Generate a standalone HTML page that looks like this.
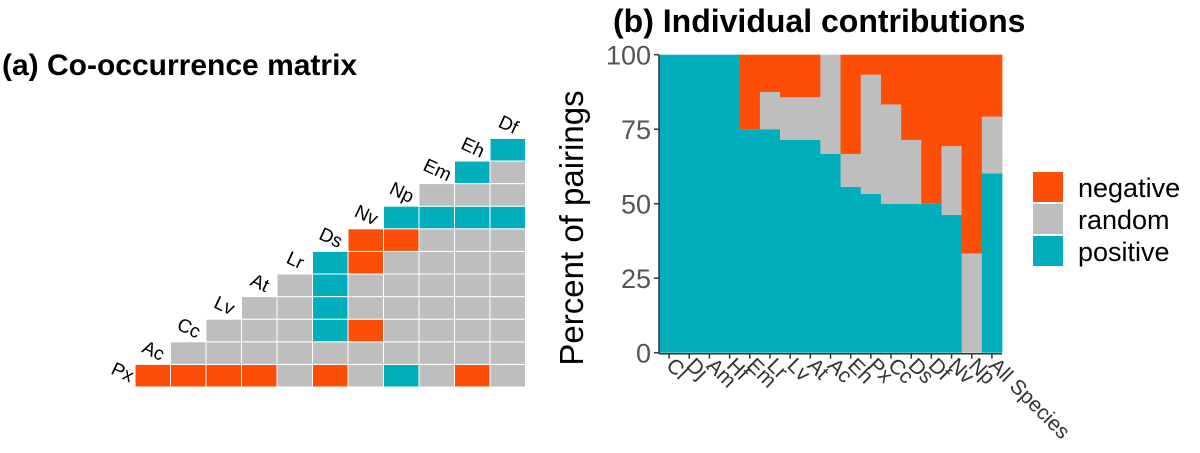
<!DOCTYPE html>
<html><head><meta charset="utf-8"><style>
html,body{margin:0;padding:0;background:#fff;width:1200px;height:453px;overflow:hidden}
svg text{font-family:"Liberation Sans",Arial,sans-serif}
</style></head><body>
<svg id="fig" width="1200" height="453" viewBox="0 0 1200 453" xmlns="http://www.w3.org/2000/svg">
<text x="2" y="75" font-size="30" font-weight="bold" fill="#000">(a) Co-occurrence matrix</text>
<text x="613" y="32" font-size="32" font-weight="bold" fill="#000">(b) Individual contributions</text>
<g id="matrix"></g>
<g id="bars"></g>
<text transform="translate(583,228) rotate(-90)" text-anchor="middle" font-size="33" fill="#000">Percent of pairings</text>
<g>
<rect x="1033" y="172" width="30" height="30" fill="#FC4E07"/>
<rect x="1033" y="204" width="30" height="30" fill="#BEBEBE"/>
<rect x="1033" y="236" width="30" height="30" fill="#00AFBB"/>
<text x="1078" y="197" font-size="27" fill="#000">negative</text>
<text x="1078" y="229" font-size="27" fill="#000">random</text>
<text x="1078" y="261" font-size="27" fill="#000">positive</text>
</g>
</svg>
<script>
const NS="http://www.w3.org/2000/svg";
const COL={N:"#FC4E07",R:"#BEBEBE",P:"#00AFBB"};
// matrix data
const matrixSpecies=["Px","Ac","Cc","Lv","At","Lr","Ds","Nv","Np","Em","Eh","Df"];
const matrixRows=[
 "NNNNRNRPRNR",
 "RRRRRRRRRR",
 "RRRPNRRRR",
 "RRPRRRRR",
 "RPRRRRR",
 "PNRRRR",
 "NNRRR",
 "PPPP",
 "RRR",
 "PR",
 "P"];
// bar data
const categories=["Cl","Dj","Am","Hf","Em","Lr","Lv","At","Ac","Eh","Px","Cc","Ds","Df","Nv","Np","All Species"];
const positive=[100,100,100,100,75,75,71.4,71.4,66.7,55.6,53.3,50,50,50,46.2,0,60.2];
const random=[0,0,0,0,0,12.5,14.3,14.3,33.3,11.1,40,33.3,21.4,0,23.1,33.3,19];
const negative=[0,0,0,0,25,12.5,14.3,14.3,0,33.3,6.7,16.7,28.6,50,30.7,66.7,20.8];
const yTicks=[0,25,50,75,100];

function mk(tag,attrs,parent){const e=document.createElementNS(NS,tag);for(const k in attrs)e.setAttribute(k,attrs[k]);parent.appendChild(e);return e;}

const mg=document.getElementById("matrix");
const mx0=135,cw=35.5,my0=387,ch=22.6;
matrixRows.forEach((row,i)=>{
  for(let k=0;k<row.length;k++){
    const j=i+k;
    const r=mk("rect",{x:mx0+j*cw,y:my0-(i+1)*ch,width:cw,height:ch,fill:COL[row[k]],stroke:"#fff","stroke-width":1},mg);
    
    
  }
});
matrixSpecies.forEach((s,i)=>{
  let x,y;
  if(i===0){x=mx0-5;y=my0-ch/2+7;}
  else{x=mx0+(i-1)*cw+cw/2-2;y=my0-i*ch-8;}
  const t=mk("text",{x:x,y:y,"font-size":19,fill:"#000","text-anchor":i===0?"end":"middle",transform:"rotate(25 "+x+" "+y+")"},mg);
  t.textContent=s;
  
  
});

const bg=document.getElementById("bars");
const px0=659,px1=1002,py0=352.7,py1=54.7;
const bw=(px1-px0)/categories.length;
const xs=i=>px0+i*bw;
const ys=v=>py0-(v/100)*(py0-py1);
categories.forEach((c,i)=>{
  const x=xs(i);
  const segs=[["positive",positive[i],COL.P],["random",random[i],COL.R],["negative",negative[i],COL.N]];
  let acc=0;
  segs.forEach(([nm,v,col])=>{
    if(v<=0)return;
    const r=mk("rect",{x:x,y:ys(acc+v),width:bw+0.4,height:ys(acc)-ys(acc+v),fill:col},bg);
    
    
    acc+=v;
  });
  const tx=x+bw/2;
  mk("line",{x1:tx,x2:tx,y1:py0+1,y2:py0+6,stroke:"#333","stroke-width":1.5},bg);
  const t=mk("text",{x:tx-4,y:py0+14,"font-size":21,fill:"#333",transform:"rotate(45 "+(tx-4)+" "+(py0+14)+")"},bg);
  t.textContent=c;
  
  
});
mk("line",{x1:px0,x2:px1,y1:py0+1,y2:py0+1,stroke:"#333","stroke-width":1.5},bg);
mk("line",{x1:px0,x2:px0,y1:py1,y2:py0+1,stroke:"#333","stroke-width":1.5},bg);
yTicks.forEach(v=>{
  mk("line",{x1:px0-5,x2:px0,y1:ys(v),y2:ys(v),stroke:"#333","stroke-width":1.5},bg);
  const t=mk("text",{x:px0-8,y:ys(v)+10,"font-size":27,fill:"#555","text-anchor":"end"},bg);
  t.textContent=v;
  
  
});
</script>
</body></html>
